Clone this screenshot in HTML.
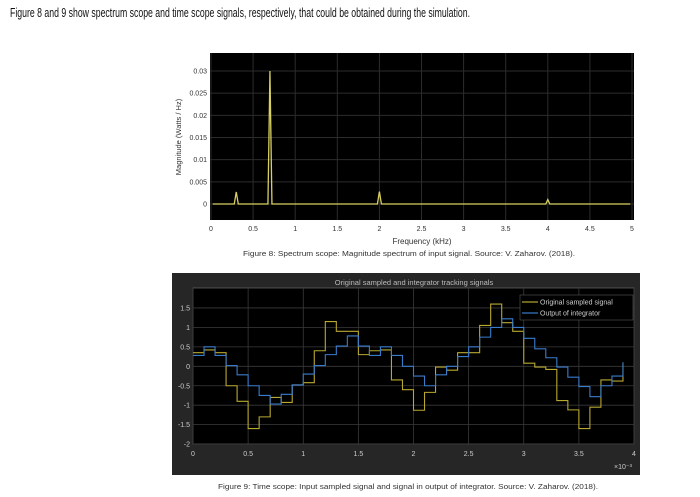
<!DOCTYPE html>
<html><head><meta charset="utf-8"><style>
html,body{margin:0;padding:0;background:#fff;width:700px;height:497px;overflow:hidden}
svg{display:block;font-family:"Liberation Sans",sans-serif}
</style></head><body>
<svg id="s" width="700" height="497" xmlns="http://www.w3.org/2000/svg">
<text x="10" y="17" font-size="13" textLength="460" lengthAdjust="spacingAndGlyphs" fill="#111">Figure 8 and 9 show spectrum scope and time scope signals, respectively, that could be obtained during the simulation.</text>
<g id="top"></g>
<g id="bot"></g>
</svg>
<script>
const specFreqs=[0.3,0.7,2.0,4.0];
const specMags=[0.0027,0.030,0.0028,0.0010];
const specYTicks=[0,0.005,0.01,0.015,0.02,0.025,0.03];
const specXTicks=[0,0.5,1,1.5,2,2.5,3,3.5,4,4.5,5];
const sampleStep=0.1;
const origSignal=[0.35,0.42,0.35,-0.5,-0.9,-1.6,-1.3,-0.8,-0.93,-0.48,-0.42,0.4,1.15,0.9,0.9,0.3,0.4,0.42,-0.35,-0.6,-1.13,-0.67,-0.02,-0.1,0.35,0.35,1.05,1.6,1.12,0.9,0.08,-0.02,-0.08,-0.88,-1.12,-1.6,-1.05,-0.35,-0.38,0.1];
const integSignal=[0.28,0.5,0.28,0.02,-0.22,-0.5,-0.75,-0.97,-0.72,-0.48,-0.2,0.02,0.3,0.52,0.78,0.52,0.28,0.5,0.28,0.0,-0.25,-0.5,-0.22,0.0,0.25,0.5,0.75,1.0,1.22,1.0,0.72,0.45,0.22,-0.02,-0.28,-0.52,-0.78,-0.5,-0.25,0.1];
const timeYTicks=[-2,-1.5,-1,-0.5,0,0.5,1,1.5];
const timeXTicks=[0,0.5,1,1.5,2,2.5,3,3.5,4];
const NS='http://www.w3.org/2000/svg';
function mk(p,t,a,txt){const e=document.createElementNS(NS,t);for(const k in a)e.setAttribute(k,a[k]);if(txt!==undefined)e.textContent=txt;p.appendChild(e);return e;}
// ---- top spectrum ----
const T=document.getElementById('top');
const fx=v=>211+v*(632-211)/5, fy=v=>204-v*(204-71)/0.03;
let r=mk(T,'rect',{x:210,y:53,width:424,height:167,fill:'#000'});


specXTicks.forEach(v=>{let l=mk(T,'line',{x1:fx(v),x2:fx(v),y1:53,y2:220,stroke:'#2c2c2c','stroke-width':1});


let t=mk(T,'text',{x:fx(v),y:231,'font-size':7,'text-anchor':'middle',fill:'#333'},String(v));

});
specYTicks.forEach(v=>{let l=mk(T,'line',{x1:210,x2:634,y1:fy(v),y2:fy(v),stroke:'#2c2c2c','stroke-width':1});


let t=mk(T,'text',{x:207,y:fy(v)+2.5,'font-size':7,'text-anchor':'end',fill:'#333'},String(v));

});
let d='M'+fx(0.02)+','+fy(0);
specFreqs.forEach((f,i)=>{d+=' L'+(fx(f)-2)+','+fy(0)+' L'+fx(f)+','+fy(specMags[i])+' L'+(fx(f)+2)+','+fy(0);});
d+=' L'+fx(4.98)+','+fy(0);
let sp=mk(T,'path',{d:d,fill:'none',stroke:'#d8d060','stroke-width':1.3});


let yl=mk(T,'text',{x:0,y:0,'font-size':7.5,'text-anchor':'middle',fill:'#333',transform:'translate(181,137) rotate(-90)'},'Magnitude (Watts / Hz)');


let xl=mk(T,'text',{x:422,y:244,'font-size':8,'text-anchor':'middle',fill:'#333'},'Frequency (kHz)');


let c8=mk(T,'text',{x:243,y:256,'font-size':7,textLength:332,lengthAdjust:'spacingAndGlyphs',fill:'#333'},'Figure 8: Spectrum scope:  Magnitude spectrum of input signal. Source: V. Zaharov. (2018).');


// ---- bottom time scope ----
const B=document.getElementById('bot');
const tx=v=>193+v*(634-193)/4, ty=v=>366.3-v*38.9;
let bg=mk(B,'rect',{x:172,y:273,width:468,height:202,fill:'#262626'});


let tt=mk(B,'text',{x:414,y:285,'font-size':7.5,'text-anchor':'middle',fill:'#bbb'},'Original sampled and integrator tracking signals');


let pa=mk(B,'rect',{x:193,y:288,width:441,height:156,fill:'#000',stroke:'#777','stroke-width':0.6});


timeXTicks.forEach(v=>{let l=mk(B,'line',{x1:tx(v),x2:tx(v),y1:288,y2:444,stroke:'#3a3a3a','stroke-width':0.8});


let t=mk(B,'text',{x:tx(v),y:456,'font-size':7,'text-anchor':'middle',fill:'#ccc'},String(v));

});
timeYTicks.forEach(v=>{let l=mk(B,'line',{x1:193,x2:634,y1:ty(v),y2:ty(v),stroke:'#3a3a3a','stroke-width':0.8});


let t=mk(B,'text',{x:190,y:ty(v)+2.5,'font-size':7,'text-anchor':'end',fill:'#ccc'},String(v));

});
function stair(arr){let s='';arr.forEach((v,i)=>{const x0=tx(i*sampleStep),x1=tx((i+1)*sampleStep);if(i===arr.length-1){s+=' L'+x0+','+ty(v);return;}s+=(i?' L':'M')+x0+','+ty(v)+' L'+x1+','+ty(v);});return s;}
let yp=mk(B,'path',{d:stair(origSignal),fill:'none',stroke:'#b8a830','stroke-width':1.1});


let bp=mk(B,'path',{d:stair(integSignal),fill:'none',stroke:'#3a7ccc','stroke-width':1.1});


let lg=mk(B,'rect',{x:520,y:295,width:113,height:25,fill:'#000',stroke:'#666','stroke-width':0.5});


let l1=mk(B,'line',{x1:522,x2:538,y1:302,y2:302,stroke:'#b8a830','stroke-width':1.2});


let t1=mk(B,'text',{x:540,y:304.5,'font-size':7,fill:'#ccc'},'Original sampled signal');


let l2=mk(B,'line',{x1:522,x2:538,y1:313,y2:313,stroke:'#3a7ccc','stroke-width':1.2});


let t2=mk(B,'text',{x:540,y:315.5,'font-size':7,fill:'#ccc'},'Output of integrator');


let ex=mk(B,'text',{x:614,y:469,'font-size':7,fill:'#ccc'},'×10⁻³');


let c9=mk(B,'text',{x:218,y:489,'font-size':7,textLength:380,lengthAdjust:'spacingAndGlyphs',fill:'#333'},'Figure 9: Time scope: Input sampled signal and signal in output of integrator.  Source: V. Zaharov. (2018).');


</script>
</body></html>
